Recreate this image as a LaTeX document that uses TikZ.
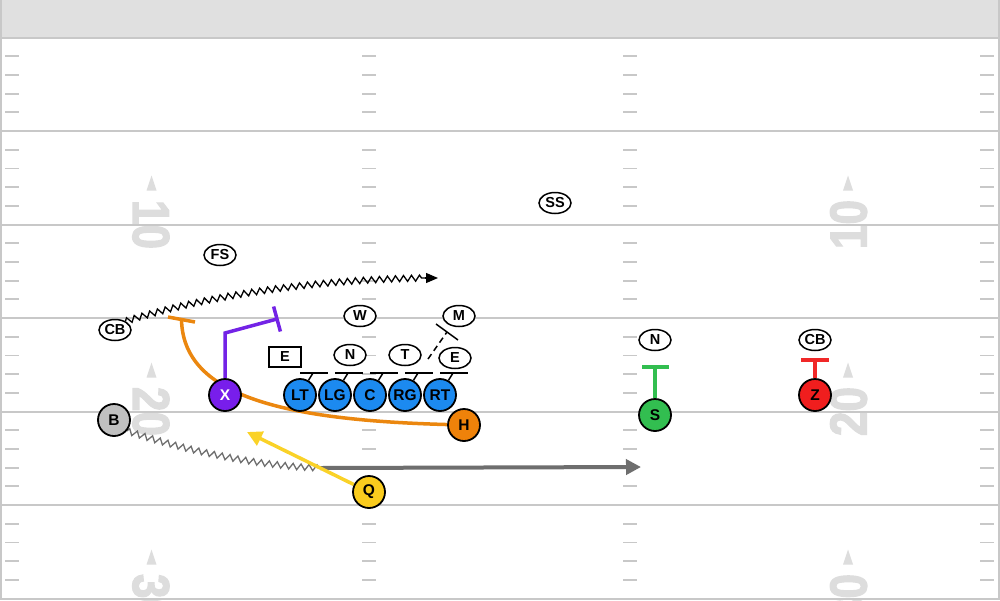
\documentclass[tikz,border=0pt]{standalone}
\usepackage{fontspec}
\setmainfont{Liberation Sans}
\newfontfamily\numfont[FakeBold=2.5]{Liberation Sans Bold}
\usetikzlibrary{shapes.geometric,arrows.meta,decorations.pathmorphing}
\pgfdeclarelayer{bg}
\pgfdeclarelayer{routes}
\pgfsetlayers{bg,routes,main}
\definecolor{band}{RGB}{224,224,224}
\definecolor{fline}{RGB}{200,200,200}
\definecolor{fnum}{RGB}{221,221,221}
\definecolor{olblue}{RGB}{28,138,240}
\definecolor{xpurple}{RGB}{120,30,235}
\definecolor{horange}{RGB}{238,130,10}
\definecolor{bgray}{RGB}{192,192,192}
\definecolor{qyellow}{RGB}{250,204,30}
\definecolor{sgreen}{RGB}{50,190,80}
\definecolor{zred}{RGB}{240,30,30}
\definecolor{orangeline}{RGB}{235,135,15}
\definecolor{purpleline}{RGB}{115,35,230}
\definecolor{yellowline}{RGB}{250,210,40}
\definecolor{grayline}{RGB}{110,110,110}
\definecolor{greenline}{RGB}{50,190,80}
\definecolor{redline}{RGB}{240,40,40}
\begin{document}
\begin{tikzpicture}[x=1pt,y=-1pt,
  player/.style={circle,minimum size=32pt,inner sep=0pt,draw=black,line width=1.8pt,
    font=\fontsize{15.5}{15.5}\selectfont\bfseries},
  defender/.style={ellipse,minimum width=32pt,minimum height=21pt,inner sep=0pt,draw=black,
    line width=1.5pt,fill=white,font=\fontsize{14.5}{14.5}\selectfont\bfseries},
  defbox/.style={rectangle,minimum width=32pt,minimum height=20pt,inner sep=0pt,draw=black,
    line width=1.5pt,fill=white,font=\fontsize{14.5}{14.5}\selectfont\bfseries},
  yardline/.style={draw=fline,line width=2pt},
  tickmark/.style={draw=fline,line width=1.8pt},
  fieldnumber/.style={inner sep=0pt,text=fnum,text height=37pt,text depth=0pt,
    font=\fontsize{52}{52}\numfont},
  route/.style={line width=3.5pt},
  blockline/.style={draw=black,line width=1.5pt},
  zig/.style={decorate,decoration={zigzag,segment length=8pt,amplitude=3pt},line width=1.3pt},
]
\useasboundingbox (0,0) rectangle (1000,600);

\begin{pgfonlayer}{bg}
  \fill[white] (0,0) rectangle (1000,600);
  \fill[band] (0,0) rectangle (1000,37.5);
  % field numbers
  \foreach \c/\t in {224.5/10,411.5/20,598.5/30}{
    \node[fieldnumber,rotate=-90] (numl\t) at (151.5,\c) {\scalebox{0.85}[1]{\t}};
    \fill[fnum] (146.5,\c-34) -- (151.5,\c-49) -- (156.5,\c-34) -- cycle;
  }
  \foreach \c/\t in {224.5/10,411.5/20,598.5/30}{
    \node[fieldnumber,rotate=90] (numr\t) at (848,\c) {\scalebox{0.85}[1]{\t}};
    \fill[fnum] (843,\c-34) -- (848,\c-49) -- (853,\c-34) -- cycle;
  }
  % yard lines
  \foreach \y in {37.5,131,224.5,318,411.5,505,598.5}
    \draw[yardline] (0,\y) -- (1000,\y);
  \draw[draw=fline,line width=1.6pt] (1,0) -- (1,600);
  \draw[draw=fline,line width=1.6pt] (999,0) -- (999,600);
  % hash marks
  \foreach \b in {37.5,131,224.5,318,411.5,505}
    \foreach \k in {1,2,3,4}
      \foreach \x in {5,362,623,980}
        \draw[tickmark] (\x,{\b+18.7*\k}) -- ({\x+14},{\b+18.7*\k});
\end{pgfonlayer}

% offense
\node[player,fill=olblue] (LT) at (300,395) {LT};
\node[player,fill=olblue] (LG) at (335,395) {LG};
\node[player,fill=olblue] (C)  at (370,395) {C};
\node[player,fill=olblue] (RG) at (405,395) {RG};
\node[player,fill=olblue] (RT) at (440,395) {RT};
\node[player,fill=xpurple,text=white] (X) at (225,395) {X};
\node[player,fill=horange] (H) at (464,425) {H};
\node[player,fill=bgray] (B) at (114,420) {B};
\node[player,fill=qyellow] (Q) at (369,492) {Q};
\node[player,fill=sgreen] (S) at (655,415) {S};
\node[player,fill=zred] (Z) at (815,395) {Z};

% defense
\node[defender] (fs) at (220,255) {FS};
\node[defender] (ss) at (555,203) {SS};
\node[defender] (cbl) at (115,330) {CB};
\node[defender] (w) at (360,316) {W};
\node[defender] (m) at (459,316) {M};
\node[defender] (nl) at (350,355) {N};
\node[defender] (t) at (405,355) {T};
\node[defender] (el) at (455,358) {E};
\node[defbox] (ebox) at (285,357) {E};
\node[defender] (nr) at (655,340) {N};
\node[defender] (cbr) at (815,340) {CB};

% route end points
\coordinate (zend) at (425,278);
\coordinate (ztip) at (438,278);
\coordinate (gz) at (320,468);
\coordinate (gtip) at (641,467);
\coordinate (ytip) at (247,432);
\coordinate (oT) at (181.5,319.5);
\coordinate (pcorner) at (225,333);
\coordinate (pend) at (277,319);
\coordinate (gT) at (655,367);
\coordinate (rT) at (815,360);
\coordinate (dstart) at (428,359);
\coordinate (mT) at (447,332);

\begin{pgfonlayer}{routes}
  % black zigzag (CB)
  \draw[zig,black] (cbl.40) .. controls (200,298) and (300,280) .. (zend);
  \draw[black,line width=1.2pt,-{Triangle[length=12pt,width=10pt]}] (zend) -- (ztip);
  % gray zigzag + straight arrow (B)
  \draw[zig,grayline] (B.-40) .. controls (190,452) and (260,466) .. (gz);
  \draw[grayline,line width=4pt,-{Triangle[length=15pt,width=15pt]}] (gz) -- (gtip);
  % yellow arrow (Q)
  \draw[yellowline,line width=3.5pt,-{Triangle[length=15pt,width=15pt]}] (Q) -- (ytip);
  % orange route (H)
  \draw[route,orangeline] (H) .. controls (280,420) and (183,395) .. (oT);
  \draw[route,orangeline] (168,317) -- (195,322);
  % purple route (X)
  \draw[route,purpleline] (X) -- (pcorner) -- (pend);
  \draw[route,purpleline] (273.6,306.5) -- (280.4,331.5);
  % green (S)
  \draw[route,greenline] (S) -- (gT);
  \draw[route,greenline] (642,367) -- (669,367);
  % red (Z)
  \draw[route,redline] (Z) -- (rT);
  \draw[route,redline] (801,360) -- (829,360);
  % blocking
  \foreach \n/\cx in {LT/300,LG/335,C/370,RG/405,RT/440}{
    \draw[blockline] (\n.60) -- (\cx+13,373);
    \draw[blockline] (\cx,373) -- (\cx+28,373);
  }
  % dashed with bar
  \draw[blockline,dash pattern=on 6pt off 4pt] (dstart) -- (mT);
  \draw[blockline] (436,324) -- (458,340);
\end{pgfonlayer}
\end{tikzpicture}
\end{document}
